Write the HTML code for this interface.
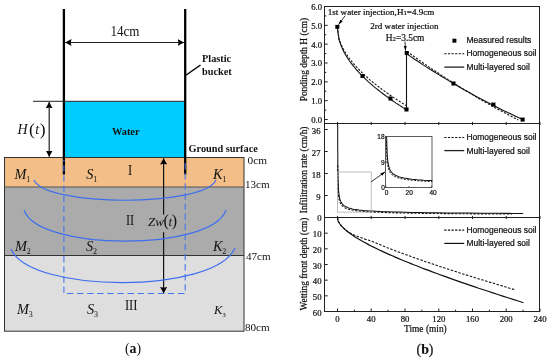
<!DOCTYPE html>
<html><head><meta charset="utf-8"><title>Figure</title>
<style>
html,body{margin:0;padding:0;background:#fff;}
body{width:550px;height:360px;overflow:hidden;position:relative;}
svg{position:absolute;left:0;top:0;display:block;}
text{font-family:"Liberation Serif",serif;fill:#111;}
.s{font-family:"Liberation Sans",sans-serif;}
.b{font-weight:bold;}
.i{font-style:italic;}
</style></head><body>
<svg width="550" height="360" viewBox="0 0 550 360">
<defs>
<marker id="ah" viewBox="0 0 10 10" refX="10" refY="5" markerWidth="6.300" markerHeight="7" preserveAspectRatio="none" orient="auto-start-reverse" markerUnits="userSpaceOnUse"><path d="M0,0 L10,5 L0,10 L1.300,5 z" fill="#000"/></marker>
<marker id="as" viewBox="0 0 10 10" refX="10" refY="5" markerWidth="5" markerHeight="5" orient="auto" markerUnits="userSpaceOnUse"><path d="M0,2 L10,5 L0,8 z" fill="#000"/></marker>
</defs>
<rect width="550" height="360" fill="#fff"/>

<g id="a">
<rect x="4" y="157" width="240" height="30" fill="#f3be88"/>
<rect x="4" y="187" width="240" height="68.500" fill="#ababab"/>
<rect x="4" y="255.500" width="240" height="75.700" fill="#dedede"/>
<rect x="4.500" y="157.500" width="239.500" height="173.700" fill="none" stroke="#333" stroke-width="1"/>
<line x1="4" y1="187" x2="244" y2="187" stroke="#555" stroke-width="1"/>
<line x1="4" y1="255.500" x2="244" y2="255.500" stroke="#333" stroke-width="1.200"/>
<rect x="64" y="101.500" width="121" height="55.500" fill="#00ccff"/>
<line x1="64" y1="101.300" x2="185" y2="101.300" stroke="#222" stroke-width="1"/>
<line x1="33" y1="101.300" x2="65" y2="101.300" stroke="#222" stroke-width="1"/>
<line x1="63.900" y1="9" x2="63.900" y2="174.500" stroke="#000" stroke-width="2.300"/>
<line x1="185.200" y1="9" x2="185.200" y2="174.500" stroke="#000" stroke-width="2.300"/>
<path d="M63.900,160 V293.500 H185.200 V160" fill="none" stroke="#4477ee" stroke-width="1.100" stroke-dasharray="6.400 3.700" stroke-dashoffset="4.900"/>
<line x1="65.200" y1="42.500" x2="184" y2="42.500" stroke="#222" stroke-width="1.100" marker-start="url(#ah)" marker-end="url(#ah)"/>
<line x1="49.200" y1="102.100" x2="49.200" y2="156.800" stroke="#222" stroke-width="1.200" marker-start="url(#ah)" marker-end="url(#ah)"/>
<line x1="163.600" y1="158.200" x2="163.600" y2="293.300" stroke="#111" stroke-width="1.200" marker-start="url(#ah)" marker-end="url(#ah)"/>
<line x1="185.500" y1="75.500" x2="200.500" y2="65" stroke="#000" stroke-width="1.500"/>
<path d="M34,180 C46,207 204,207 216,180" fill="none" stroke="#3d6eee" stroke-width="1.150"/>
<path d="M24,210 C38,251.500 212,251.500 226,210" fill="none" stroke="#3d6eee" stroke-width="1.150"/>
<path d="M11,249 C30,294 215,294 235,248" fill="none" stroke="#3d6eee" stroke-width="1.150"/>
<text x="124.900" y="35.800" font-size="14" text-anchor="middle" textLength="29" lengthAdjust="spacingAndGlyphs">14cm</text>
<text x="202" y="62" font-size="10.300" class="b">Plastic</text>
<text x="202" y="75" font-size="10.300" class="b">bucket</text>
<text x="112" y="134.700" font-size="10.300" class="b">Water</text>
<text x="188.500" y="151.500" font-size="10.300" class="b">Ground surface</text>
<text x="17.500" y="133.500" font-size="14"><tspan class="i">H</tspan><tspan dx="1.300" dy="1" font-size="17.500">(</tspan><tspan class="i" dx="0.500" dy="-1">t</tspan><tspan dx="0.500" dy="1" font-size="17.500">)</tspan></text>
<rect x="160" y="214.700" width="8" height="17.500" fill="#ababab"/>
<text x="148" y="225.500" font-size="13"><tspan class="i">Zw</tspan><tspan font-size="16" dx="-0.400" dy="0.800">(</tspan><tspan class="i" dx="-0.300" dy="-0.800">t</tspan><tspan font-size="16" dx="-0.300" dy="0.800">)</tspan></text>
<text x="247.500" y="164" font-size="11.300">0cm</text>
<text x="245" y="188" font-size="11.100">13cm</text>
<text x="246" y="259.500" font-size="11.100">47cm</text>
<text x="245" y="330.500" font-size="11.100">80cm</text>
<text x="130" y="174.800" font-size="15.500" text-anchor="middle" textLength="4.200" lengthAdjust="spacingAndGlyphs">I</text>
<text x="130" y="225.200" font-size="15.500" text-anchor="middle" textLength="8.200" lengthAdjust="spacingAndGlyphs">II</text>
<text x="131.200" y="309.500" font-size="15.200" text-anchor="middle" textLength="12.600" lengthAdjust="spacingAndGlyphs">III</text>

<text x="14.5" y="179" font-size="14.3"><tspan class="i">M</tspan><tspan font-size="8.0" dy="3.4" dx="-0.2">1</tspan></text>
<text x="86.3" y="179" font-size="14.3"><tspan class="i">S</tspan><tspan font-size="8.0" dy="3.4" dx="-0.2">1</tspan></text>
<text x="213" y="179" font-size="14.3"><tspan class="i">K</tspan><tspan font-size="8.0" dy="3.4" dx="-0.2">1</tspan></text>
<text x="15" y="251" font-size="14.3"><tspan class="i">M</tspan><tspan font-size="8.0" dy="3.4" dx="-0.2">2</tspan></text>
<text x="86" y="251" font-size="14.3"><tspan class="i">S</tspan><tspan font-size="8.0" dy="3.4" dx="-0.2">2</tspan></text>
<text x="213" y="251" font-size="14.3"><tspan class="i">K</tspan><tspan font-size="8.0" dy="3.4" dx="-0.2">2</tspan></text>
<text x="17" y="314" font-size="14.3"><tspan class="i">M</tspan><tspan font-size="8.0" dy="3.4" dx="-0.2">3</tspan></text>
<text x="87" y="314" font-size="14.3"><tspan class="i">S</tspan><tspan font-size="8.0" dy="3.4" dx="-0.2">3</tspan></text>
<text x="214" y="313.5" font-size="12.5"><tspan class="i">K</tspan><tspan font-size="7.0" dy="3.4" dx="-0.2">3</tspan></text>
<text x="133" y="352.500" font-size="13.800" text-anchor="middle">(<tspan class="b">a</tspan>)</text>
</g>
<g id="b" stroke="#111" stroke-width="0.22">
<rect x="324.5" y="6.5" width="215.0" height="305.0" fill="none" stroke="#222" stroke-width="1"/>
<line x1="324.5" y1="123.5" x2="539.5" y2="123.5" stroke="#222" stroke-width="1"/>
<line x1="324.5" y1="217.5" x2="539.5" y2="217.5" stroke="#222" stroke-width="1"/>
<path d="M337.5,311.5 v-3 M337.5,121.9 v3.2 M337.5,215.9 v3.2 M354.4,311.5 v-1.8 M371.2,311.5 v-3 M371.2,121.9 v3.2 M371.2,215.9 v3.2 M388.1,311.5 v-1.8 M405.0,311.5 v-3 M405.0,121.9 v3.2 M405.0,215.9 v3.2 M421.9,311.5 v-1.8 M438.8,311.5 v-3 M438.8,121.9 v3.2 M438.8,215.9 v3.2 M455.6,311.5 v-1.8 M472.5,311.5 v-3 M472.5,121.9 v3.2 M472.5,215.9 v3.2 M489.4,311.5 v-1.8 M506.2,311.5 v-3 M506.2,121.9 v3.2 M506.2,215.9 v3.2 M523.1,311.5 v-1.8 M540.0,311.5 v-3 M540.0,121.9 v3.2 M540.0,215.9 v3.2 M324.5,119.50 h3.2 M324.5,110.08 h1.8 M324.5,100.67 h3.2 M324.5,91.25 h1.8 M324.5,81.83 h3.2 M324.5,72.41 h1.8 M324.5,63.00 h3.2 M324.5,53.58 h1.8 M324.5,44.16 h3.2 M324.5,34.75 h1.8 M324.5,25.33 h3.2 M324.5,15.91 h1.8 M324.5,195.50 h3.2 M324.5,173.50 h3.2 M324.5,151.50 h3.2 M324.5,129.50 h3.2 M324.5,233.17 h3.2 M324.5,248.83 h3.2 M324.5,264.50 h3.2 M324.5,280.17 h3.2 M324.5,295.83 h3.2" stroke="#222" stroke-width="1" fill="none"/>
<text x="322" y="122.9" font-size="8.700" text-anchor="end">0.0</text>
<text x="322" y="104.1" font-size="8.700" text-anchor="end">1.0</text>
<text x="322" y="85.2" font-size="8.700" text-anchor="end">2.0</text>
<text x="322" y="66.4" font-size="8.700" text-anchor="end">3.0</text>
<text x="322" y="47.6" font-size="8.700" text-anchor="end">4.0</text>
<text x="322" y="28.7" font-size="8.700" text-anchor="end">5.0</text>
<text x="322" y="9.9" font-size="8.700" text-anchor="end">6.0</text>
<text x="320.500" y="199.7" font-size="8.700" text-anchor="end">9</text>
<text x="320.500" y="177.7" font-size="8.700" text-anchor="end">18</text>
<text x="320.500" y="155.7" font-size="8.700" text-anchor="end">27</text>
<text x="320.500" y="133.7" font-size="8.700" text-anchor="end">36</text>
<text x="321.500" y="221.2" font-size="8.700" text-anchor="end">0</text>
<text x="321.500" y="237.2" font-size="8.700" text-anchor="end">10</text>
<text x="321.500" y="252.9" font-size="8.700" text-anchor="end">20</text>
<text x="321.500" y="268.6" font-size="8.700" text-anchor="end">30</text>
<text x="321.500" y="284.2" font-size="8.700" text-anchor="end">40</text>
<text x="321.500" y="299.9" font-size="8.700" text-anchor="end">50</text>
<text x="321.500" y="315.6" font-size="8.700" text-anchor="end">60</text>
<text x="337.5" y="322.400" font-size="8.700" text-anchor="middle">0</text>
<text x="371.2" y="322.400" font-size="8.700" text-anchor="middle">40</text>
<text x="405.0" y="322.400" font-size="8.700" text-anchor="middle">80</text>
<text x="438.8" y="322.400" font-size="8.700" text-anchor="middle">120</text>
<text x="472.5" y="322.400" font-size="8.700" text-anchor="middle">160</text>
<text x="506.2" y="322.400" font-size="8.700" text-anchor="middle">200</text>
<text x="540.0" y="322.400" font-size="8.700" text-anchor="middle">240</text>
<text x="425.400" y="331.800" font-size="9.400" text-anchor="middle">Time (min)</text>
<text transform="translate(306.700,59.600) rotate(-90)" font-size="9.350" text-anchor="middle">Ponding depth H (cm)</text>
<text transform="translate(306.700,169.850) rotate(-90)" font-size="9.350" text-anchor="middle">Infilitration rate (cm/h)</text>
<text transform="translate(306.700,264) rotate(-90)" font-size="9.350" text-anchor="middle">Wetting front depth (cm)</text>
<path d="M337.3,26.9 L339.0,39.6 L340.8,44.9 L342.5,49.0 L344.2,52.4 L345.9,55.5 L347.7,58.2 L349.4,60.8 L351.1,63.2 L352.9,65.4 L354.6,67.5 L356.3,69.6 L358.1,71.5 L359.8,73.4 L361.5,75.2 L363.2,76.9 L365.0,78.6 L366.7,80.2 L368.4,81.8 L370.2,83.3 L371.9,84.8 L373.6,86.3 L375.4,87.8 L377.1,89.2 L378.8,90.5 L380.6,91.9 L382.3,93.2 L384.0,94.5 L385.7,95.8 L387.5,97.1 L389.2,98.3 L390.9,99.5 L392.7,100.7 L394.4,101.9 L396.1,103.1 L397.9,104.2 L399.6,105.4 L401.3,106.5 L403.0,107.6 L404.8,108.7 L406.5,109.8 L406.5,53 406.5,53.8 L410.4,56.4 L414.2,59.0 L418.1,61.5 L422.0,64.1 L425.9,66.6 L429.7,69.0 L433.6,71.5 L437.5,73.9 L441.4,76.3 L445.2,78.6 L449.1,80.9 L453.0,83.2 L456.9,85.5 L460.7,87.7 L464.6,89.9 L468.5,92.1 L472.3,94.3 L476.2,96.4 L480.1,98.5 L484.0,100.5 L487.8,102.6 L491.7,104.6 L495.6,106.5 L499.5,108.5 L503.3,110.4 L507.2,112.3 L511.1,114.1 L515.0,116.0 L518.8,117.8 L522.7,119.5" fill="none" stroke="#111" stroke-width="1.100" stroke-linejoin="round"/>
<path d="M337.3,26.9 L339.0,38.6 L340.8,43.6 L342.5,47.4 L344.2,50.6 L346.0,53.5 L347.7,56.1 L349.4,58.5 L351.2,60.8 L352.9,62.9 L354.6,64.9 L356.4,66.9 L358.1,68.7 L359.8,70.5 L361.6,72.2 L363.3,73.9 L365.0,75.5 L366.8,77.0 L368.5,78.6 L370.2,80.1 L372.0,81.5 L373.7,82.9 L375.4,84.3 L377.1,85.7 L378.9,87.0 L380.6,88.3 L382.3,89.6 L384.1,90.9 L385.8,92.1 L387.5,93.3 L389.3,94.6 L391.0,95.7 L392.7,96.9 L394.5,98.1 L396.2,99.2 L397.9,100.3 L399.7,101.5 L401.4,102.6 L403.1,103.6 L404.9,104.7 L406.6,105.8" fill="none" stroke="#111" stroke-width="1.100" stroke-dasharray="2.200 1.500"/>
<path d="M407.0,51.5 L410.7,54.2 L414.4,56.8 L418.1,59.4 L421.8,62.0 L425.5,64.6 L429.2,67.1 L432.9,69.6 L436.7,72.1 L440.4,74.6 L444.1,77.0 L447.8,79.4 L451.5,81.8 L455.2,84.1 L458.9,86.4 L462.6,88.7 L466.3,91.0 L470.0,93.2 L473.7,95.4 L477.4,97.6 L481.1,99.8 L484.8,101.9 L488.5,104.0 L492.3,106.1 L496.0,108.2 L499.7,110.2 L503.4,112.2 L507.1,114.1 L510.8,116.1 L514.5,118.0 L518.2,119.9" fill="none" stroke="#111" stroke-width="1.100" stroke-dasharray="2.200 1.500"/>
<rect x="335.4" y="25.0" width="3.800" height="3.800" fill="#000"/>
<rect x="360.6" y="74.1" width="3.800" height="3.800" fill="#000"/>
<rect x="388.6" y="96.6" width="3.800" height="3.800" fill="#000"/>
<rect x="404.6" y="107.6" width="3.800" height="3.800" fill="#000"/>
<rect x="404.9" y="51.1" width="3.800" height="3.800" fill="#000"/>
<rect x="451.6" y="81.6" width="3.800" height="3.800" fill="#000"/>
<rect x="491.5" y="102.7" width="3.800" height="3.800" fill="#000"/>
<rect x="520.8" y="117.7" width="3.800" height="3.800" fill="#000"/>
<text x="327.800" y="14.700" font-size="9.050">1st water injection,H<tspan font-size="6.800">1</tspan>=4.9cm</text>
<text x="370.300" y="28.700" font-size="9.050">2rd water injection</text>
<text x="385.800" y="40.500" font-size="9.350">H<tspan font-size="6.800">2</tspan>=3.5cm</text>
<line x1="345" y1="15.800" x2="338.600" y2="24.600" stroke="#000" stroke-width="0.800" marker-end="url(#as)"/>
<line x1="405" y1="41.500" x2="405.500" y2="50.800" stroke="#000" stroke-width="0.800" marker-end="url(#as)"/>
<rect x="452.550" y="38.900" width="3.700" height="3.700" fill="#000"/>
<line x1="444.300" y1="53.800" x2="464.200" y2="53.800" stroke="#111" stroke-width="1.100" stroke-dasharray="2.200 1.400"/>
<line x1="444.300" y1="67.100" x2="464.200" y2="67.100" stroke="#111" stroke-width="1.200"/>
<text class="s" x="466.500" y="43.400" font-size="8.450">Measured results</text>
<text class="s" x="466.500" y="56.400" font-size="8.450">Homogeneous soil</text>
<text class="s" x="466.500" y="69.700" font-size="8.450">Multi-layered soil</text>
<path d="M337.6,165.3 L337.6,167.6 L337.6,169.8 L337.6,172.0 L337.7,174.0 L337.7,176.0 L337.7,177.8 L337.8,179.6 L337.8,181.2 L337.8,182.8 L337.9,184.4 L337.9,185.8 L338.0,187.2 L338.0,188.5 L338.1,189.8 L338.2,191.0 L338.2,192.2 L338.3,193.2 L338.4,194.3 L338.5,195.3 L338.6,196.2 L338.8,197.1 L338.9,198.0 L339.0,198.8 L339.2,199.6 L339.4,200.4 L339.6,201.1 L339.8,201.7 L340.0,202.4 L340.3,203.0 L340.6,203.6 L340.9,204.2 L341.3,204.7 L341.6,205.2 L342.1,205.7 L342.5,206.2 L343.1,206.6 L343.6,207.0 L344.2,207.4 L344.9,207.8 L345.7,208.2 L346.5,208.5 L347.4,208.9 L348.4,209.2 L349.5,209.5 L350.7,209.8 L352.1,210.0 L353.5,210.3 L355.1,210.5 L356.9,210.8 L358.9,211.0 L361.0,211.2 L363.4,211.4 L366.0,211.6 L368.8,211.8 L372.0,212.0 L375.4,212.2 L379.2,212.3 L383.4,212.5 L388.0,212.6 L393.1,212.8 L398.6,212.9 L404.8,213.0 L411.5,213.2 L418.9,213.3 L427.1,213.4 L436.0,213.5 L445.9,213.6 L456.7,213.7 L468.7,213.8 L481.8,213.9 L496.2,214.0 L512.1,214.0" fill="none" stroke="#111" stroke-width="1.100" stroke-dasharray="2.200 1.500"/>
<path d="M337.6,124.0 L337.7,126.6 L337.7,130.7 L337.7,134.7 L337.7,138.4 L337.7,142.0 L337.7,145.4 L337.7,148.7 L337.8,151.8 L337.8,154.7 L337.8,157.5 L337.8,160.2 L337.8,162.8 L337.8,165.2 L337.9,167.6 L337.9,169.8 L337.9,171.9 L338.0,173.9 L338.0,175.9 L338.0,177.7 L338.1,179.4 L338.1,181.1 L338.2,182.7 L338.2,184.2 L338.3,185.7 L338.4,187.0 L338.4,188.4 L338.5,189.6 L338.6,190.8 L338.7,191.9 L338.8,193.0 L339.0,194.1 L339.1,195.1 L339.2,196.0 L339.4,196.9 L339.6,197.8 L339.8,198.6 L340.0,199.4 L340.2,200.1 L340.5,200.8 L340.8,201.5 L341.1,202.1 L341.5,202.7 L341.8,203.3 L342.3,203.9 L342.7,204.4 L343.3,204.9 L343.8,205.4 L344.4,205.9 L345.1,206.3 L345.9,206.7 L346.7,207.1 L347.6,207.5 L348.6,207.9 L349.7,208.2 L350.9,208.5 L352.3,208.9 L353.7,209.2 L355.3,209.4 L357.1,209.7 L359.1,210.0 L361.2,210.2 L363.6,210.5 L366.2,210.7 L369.0,210.9 L372.2,211.1 L375.6,211.3 L379.4,211.5 L383.6,211.7 L388.2,211.8 L393.3,212.0 L398.8,212.1 L405.0,212.3 L411.7,212.4 L419.1,212.6 L427.3,212.7 L436.2,212.8 L446.1,212.9 L456.9,213.0 L468.9,213.1 L482.0,213.2 L496.4,213.3 L512.3,213.4 L523.2,213.5" fill="none" stroke="#111" stroke-width="1.050" stroke-linejoin="round"/>
<rect x="337.400" y="172" width="33.800" height="40.100" fill="none" stroke="#a0a0a0" stroke-width="0.700"/>
<line x1="371.200" y1="181.800" x2="385.200" y2="171.800" stroke="#000" stroke-width="0.800" marker-end="url(#as)"/>
<rect x="385.500" y="136.500" width="46.500" height="51" fill="#fff" stroke="#333" stroke-width="0.800"/>
<path d="M386.4,141.2 L386.4,143.3 L386.4,145.2 L386.5,147.1 L386.5,148.9 L386.6,150.6 L386.6,152.2 L386.7,153.7 L386.8,155.2 L386.8,156.6 L386.9,157.9 L387.0,159.2 L387.1,160.4 L387.2,161.6 L387.3,162.7 L387.5,163.8 L387.6,164.8 L387.8,165.7 L388.0,166.6 L388.2,167.5 L388.4,168.3 L388.6,169.1 L388.9,169.9 L389.1,170.6 L389.5,171.3 L389.8,172.0 L390.2,172.6 L390.6,173.2 L391.1,173.7 L391.6,174.3 L392.1,174.8 L392.7,175.3 L393.4,175.8 L394.2,176.2 L395.0,176.6 L395.9,177.0 L396.9,177.4 L398.0,177.8 L399.2,178.1 L400.5,178.5 L401.9,178.8 L403.5,179.1 L405.3,179.4 L407.2,179.7 L409.3,179.9 L411.6,180.2 L414.2,180.4 L417.0,180.7 L420.1,180.9 L423.5,181.1 L427.3,181.3 L431.4,181.5 L432.0,181.5" fill="none" stroke="#111" stroke-width="1" stroke-dasharray="2 1.400"/>
<path d="M386.200,136.800 L386.7,137.9 L386.7,140.1 L386.8,142.2 L386.8,144.2 L386.9,146.1 L386.9,147.9 L387.0,149.6 L387.1,151.3 L387.1,152.8 L387.2,154.3 L387.3,155.8 L387.4,157.1 L387.5,158.4 L387.6,159.6 L387.8,160.8 L387.9,161.9 L388.1,163.0 L388.3,164.0 L388.5,165.0 L388.7,165.9 L388.9,166.8 L389.2,167.7 L389.4,168.5 L389.8,169.2 L390.1,170.0 L390.5,170.7 L390.9,171.3 L391.4,172.0 L391.9,172.6 L392.4,173.1 L393.0,173.7 L393.7,174.2 L394.5,174.7 L395.3,175.2 L396.2,175.6 L397.2,176.1 L398.3,176.5 L399.5,176.9 L400.8,177.3 L402.2,177.6 L403.8,178.0 L405.6,178.3 L407.5,178.6 L409.6,178.9 L411.9,179.2 L414.5,179.4 L417.3,179.7 L420.4,179.9 L423.8,180.2 L427.6,180.4 L431.7,180.6 L432.3,180.6" fill="none" stroke="#111" stroke-width="1.050" stroke-linejoin="round"/>
<path d="M386,187.500 v-1.500 M409,187.500 v-1.500 M431.600,187.500 v-1.500 M385.500,162 h1.500" stroke="#222" stroke-width="0.700" fill="none"/>
<text class="s" x="384.600" y="138.800" font-size="6.500" text-anchor="end">18</text>
<text class="s" x="384.600" y="164.600" font-size="6.500" text-anchor="end">9</text>
<text class="s" x="384.800" y="190" font-size="6.500" text-anchor="end">0</text>
<text class="s" x="386.500" y="194.500" font-size="6.500" text-anchor="middle">0</text>
<text class="s" x="409.200" y="194.500" font-size="6.500" text-anchor="middle">20</text>
<text class="s" x="433" y="194.500" font-size="6.500" text-anchor="middle">40</text>
<line x1="444.300" y1="137.500" x2="464.200" y2="137.500" stroke="#111" stroke-width="1.100" stroke-dasharray="2.200 1.400"/>
<line x1="444.300" y1="150.600" x2="464.200" y2="150.600" stroke="#222" stroke-width="1.300"/>
<text class="s" x="466.500" y="140.200" font-size="8.450">Homogeneous soil</text>
<text class="s" x="466.500" y="153.500" font-size="8.450">Multi-layered soil</text>
<path d="M337.5,217.5 L337.5,218.3 L337.6,219.0 L337.8,219.8 L338.1,220.6 L338.4,221.4 L338.8,222.2 L339.3,223.0 L339.8,223.9 L340.4,224.7 L341.1,225.6 L341.9,226.4 L342.7,227.3 L343.6,228.2 L344.6,229.0 L345.7,229.9 L346.8,230.7 L348.0,231.6 L349.3,232.4 L350.6,233.2 L352.0,233.9 L353.5,234.7 L355.1,235.4 L356.7,236.1 L358.4,236.8 L360.2,237.5 L362.1,238.1 L364.0,238.8 L366.0,239.4 L368.1,240.1 L370.2,240.8 L372.4,241.6 L374.7,242.5 L377.1,243.5 L379.5,244.5 L382.1,245.6 L384.6,246.6 L387.3,247.7 L390.0,248.7 L392.8,249.8 L395.7,250.9 L398.6,252.0 L401.7,253.1 L404.7,254.3 L407.9,255.4 L411.1,256.6 L414.5,257.8 L417.8,258.9 L421.3,260.1 L424.8,261.4 L428.4,262.6 L432.1,263.8 L435.8,265.1 L439.7,266.4 L443.5,267.6 L447.5,268.9 L451.5,270.2 L455.7,271.6 L459.8,272.9 L464.1,274.3 L468.4,275.6 L472.8,277.0 L477.3,278.4 L481.8,279.8 L486.5,281.2 L491.2,282.6 L495.9,284.1 L500.8,285.5 L505.7,287.0 L510.6,288.5 L515.7,290.0" fill="none" stroke="#111" stroke-width="1.100" stroke-dasharray="2.500 1.500"/>
<path d="M337.5,217.5 L337.5,218.3 L337.7,219.1 L337.8,219.8 L338.1,220.7 L338.4,221.5 L338.9,222.3 L339.4,223.2 L339.9,224.0 L340.6,224.9 L341.3,225.8 L342.1,226.7 L343.0,227.6 L343.9,228.5 L344.9,229.4 L346.0,230.4 L347.2,231.4 L348.5,232.3 L349.8,233.3 L351.2,234.3 L352.7,235.3 L354.2,236.4 L355.9,237.4 L357.6,238.5 L359.4,239.5 L361.2,240.6 L363.2,241.7 L365.2,242.8 L367.3,243.9 L369.4,245.1 L371.7,246.2 L374.0,247.4 L376.4,248.5 L378.8,249.7 L381.4,250.9 L384.0,252.1 L386.7,253.4 L389.5,254.6 L392.3,255.8 L395.2,257.1 L398.2,258.4 L401.3,259.7 L404.4,261.0 L407.7,262.3 L411.0,263.6 L414.4,265.0 L417.8,266.3 L421.3,267.7 L424.9,269.1 L428.6,270.4 L432.4,271.9 L436.2,273.3 L440.1,274.7 L444.1,276.1 L448.2,277.6 L452.3,279.1 L456.5,280.6 L460.8,282.1 L465.2,283.6 L469.6,285.1 L474.1,286.6 L478.7,288.2 L483.4,289.7 L488.1,291.3 L492.9,292.9 L497.8,294.5 L502.8,296.1 L507.9,297.7 L513.0,299.4 L518.2,301.0 L523.5,302.7" fill="none" stroke="#111" stroke-width="1.200"/>
<line x1="444.300" y1="230.100" x2="464.200" y2="230.100" stroke="#111" stroke-width="1.100" stroke-dasharray="2.200 1.400"/>
<line x1="444.300" y1="243.400" x2="464.200" y2="243.400" stroke="#111" stroke-width="1.200"/>
<text class="s" x="466.500" y="232.800" font-size="8.450">Homogeneous soil</text>
<text class="s" x="466.500" y="246.200" font-size="8.450">Multi-layered soil</text>
<text x="425" y="354.400" font-size="13.800" text-anchor="middle">(<tspan class="b">b</tspan>)</text>
</g></svg></body></html>
